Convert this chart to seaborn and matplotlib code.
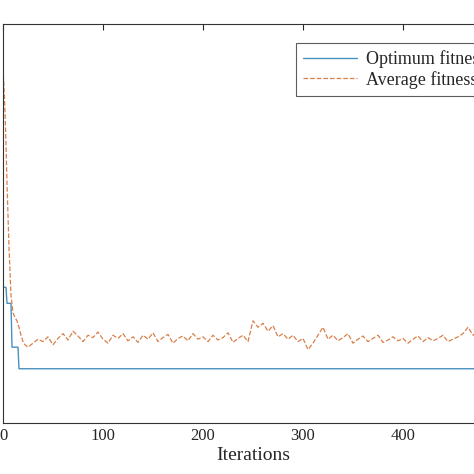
import matplotlib
matplotlib.use("Agg")
import matplotlib.pyplot as plt
import seaborn as sns
import numpy as np
import pandas as pd

sns.set_style("white")
plt.rcParams['font.family'] = ['Liberation Serif', 'DejaVu Serif']

opt_x = [0, 3, 4, 8, 9, 15, 16, 500]
opt_y = [1.70, 1.70, 1.50, 1.50, 0.95, 0.95, 0.68, 0.68]

avg_head_x = [0, 1, 2, 3, 4, 5, 6, 7, 8, 10, 12, 14, 16, 18, 20, 22, 25]
avg_head_y = [4.45, 4.2, 3.9, 3.5, 3.0, 2.6, 2.2, 1.9, 1.6, 1.38, 1.32, 1.28, 1.2, 1.1, 1.02, 0.98, 0.95]
avg_tail_x = list(range(30, 501, 5))
avg_tail_y = [1.0, 1.05, 1.02, 1.08, 0.98, 1.06, 1.12, 1.04, 1.15, 1.09, 1.02, 1.1, 1.07, 1.14, 1.05, 1.0, 1.1, 1.06,
              1.12, 1.03, 1.08, 1.01, 1.1, 1.05, 1.13, 1.02, 1.07, 1.11, 1.0, 1.06, 1.09, 1.03, 1.12, 1.05, 1.08, 1.02,
              1.1, 1.04, 1.07, 1.13, 1.01, 1.06, 1.1, 1.02, 1.28, 1.2, 1.25, 1.15, 1.22, 1.08, 1.12, 1.05, 1.1, 1.02,
              1.06, 0.92, 1.0, 1.1, 1.2, 1.05, 1.1, 1.03, 1.07, 1.12, 1.0, 1.05, 1.09, 1.02, 1.06, 1.1, 1.01, 1.04,
              1.08, 1.03, 1.06, 1.0, 1.05, 1.09, 1.02, 1.07, 1.03, 1.06, 1.1, 1.02, 1.05, 1.08, 1.12, 1.2, 1.1, 1.15, 1.1, 1.12, 1.18, 1.1, 1.15]
avg_x = avg_head_x + avg_tail_x[:len(avg_tail_y)]
avg_y = avg_head_y + avg_tail_y

fig = plt.figure(figsize=(4.74, 4.74), dpi=100)
ax = fig.add_axes([3/474, 51/474, 500/474, 399/474])
sns.lineplot(x=opt_x, y=opt_y, ax=ax, color='#4a90c0', lw=1, label='Optimum fitness value', estimator=None)
sns.lineplot(x=avg_x, y=avg_y, ax=ax, color='#d9804a', lw=0.9, linestyle='--', label='Average fitness value', estimator=None)
ax.set_xlim(0, 500)
ax.set_ylim(0, 5)
ax.set_xticks([0, 100, 200, 300, 400, 500])
ax.set_yticks([0, 1, 2, 3, 4, 5])
ax.set_yticklabels([])
ax.tick_params(direction='in', length=4, labelsize=12, top=True, right=True)
ax.set_xlabel('Iterations', fontsize=14, labelpad=2)
for s in ax.spines.values():
    s.set_color('#333333'); s.set_linewidth(0.8)
leg = ax.legend(loc='upper left', bbox_to_anchor=(284/500, 0.975), fontsize=13, frameon=True,
                fancybox=False, edgecolor='#333333', handlelength=3.0, handletextpad=0.5,
                borderpad=0.4, labelspacing=0.15)
leg.get_frame().set_linewidth(0.8)
fig.savefig('out.png', dpi=100)
